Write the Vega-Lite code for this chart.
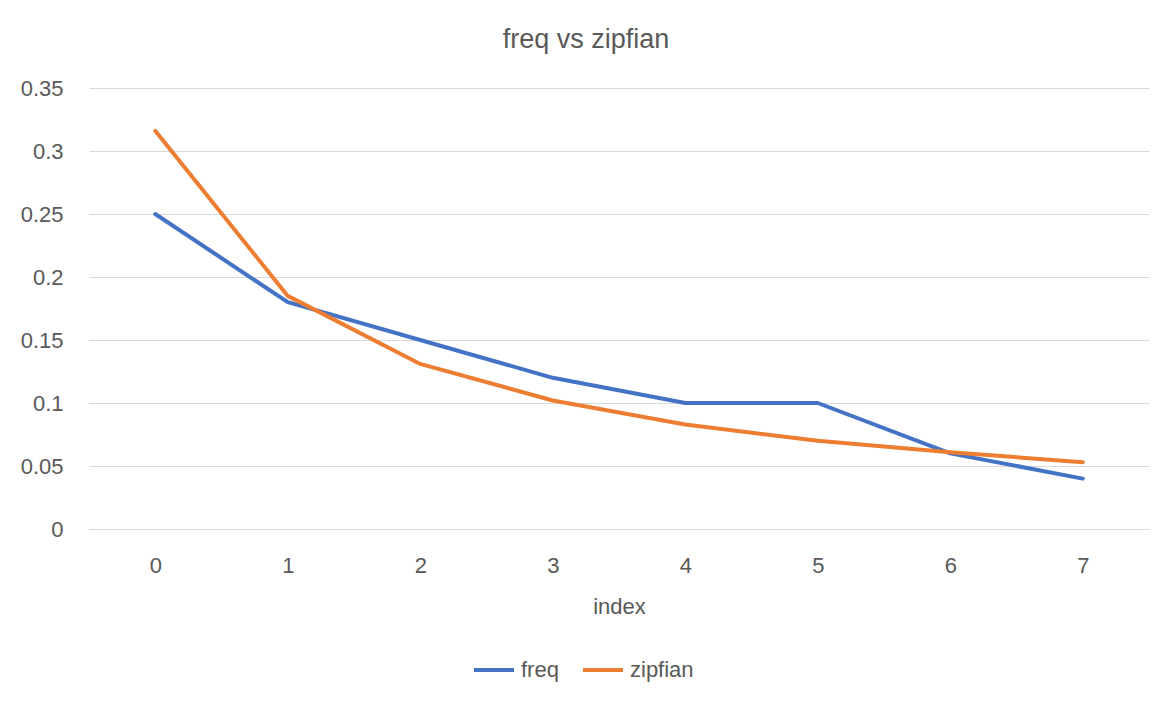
{
  "$schema": "https://vega.github.io/schema/vega-lite/v6.json",
  "autosize": {"type": "none"},
  "width": 1060,
  "height": 441,
  "padding": {"left": 89, "top": 88, "right": 25, "bottom": 177},
  "background": "white",
  "title": {
    "text": "freq vs zipfian",
    "fontSize": 27,
    "fontWeight": "normal",
    "font": "Liberation Sans",
    "color": "#595959",
    "anchor": "middle",
    "dx": -33,
    "offset": 23
  },
  "data": {
    "values": [
      {"index": 0, "series": "freq", "value": 0.25},
      {"index": 1, "series": "freq", "value": 0.18},
      {"index": 2, "series": "freq", "value": 0.15},
      {"index": 3, "series": "freq", "value": 0.12},
      {"index": 4, "series": "freq", "value": 0.10},
      {"index": 5, "series": "freq", "value": 0.10},
      {"index": 6, "series": "freq", "value": 0.06},
      {"index": 7, "series": "freq", "value": 0.04},
      {"index": 0, "series": "zipfian", "value": 0.316},
      {"index": 1, "series": "zipfian", "value": 0.185},
      {"index": 2, "series": "zipfian", "value": 0.131},
      {"index": 3, "series": "zipfian", "value": 0.102},
      {"index": 4, "series": "zipfian", "value": 0.083},
      {"index": 5, "series": "zipfian", "value": 0.07},
      {"index": 6, "series": "zipfian", "value": 0.061},
      {"index": 7, "series": "zipfian", "value": 0.053}
    ]
  },
  "mark": {"type": "line", "strokeWidth": 4, "strokeCap": "round", "strokeJoin": "round"},
  "encoding": {
    "x": {
      "field": "index",
      "type": "ordinal",
      "scale": {"type": "point", "padding": 0.5},
      "axis": {
        "title": "index",
        "labelAngle": 0,
        "labelFontSize": 22,
        "labelColor": "#595959",
        "labelPadding": 26,
        "titleFontSize": 22,
        "titleFontWeight": "normal",
        "titleColor": "#595959",
        "titlePadding": 20,
        "ticks": false,
        "domainColor": "#D9D9D9",
        "grid": false
      }
    },
    "y": {
      "field": "value",
      "type": "quantitative",
      "scale": {"domain": [0, 0.35]},
      "axis": {
        "title": null,
        "values": [0, 0.05, 0.1, 0.15, 0.2, 0.25, 0.3, 0.35],
        "format": "~g",
        "labelFontSize": 22,
        "labelColor": "#595959",
        "labelPadding": 26,
        "ticks": false,
        "domain": false,
        "gridColor": "#D9D9D9",
        "gridWidth": 1
      }
    },
    "color": {
      "field": "series",
      "type": "nominal",
      "scale": {"domain": ["freq", "zipfian"], "range": ["#4472C4", "#ED7D31"]},
      "legend": {
        "title": null,
        "orient": "none",
        "direction": "horizontal",
        "legendX": 383,
        "legendY": 560,
        "symbolType": "stroke",
        "symbolStrokeWidth": 4,
        "symbolSize": 1600,
        "labelFontSize": 22,
        "labelColor": "#595959",
        "columnPadding": 16,
        "labelOffset": 5
      }
    }
  },
  "config": {
    "font": "Liberation Sans",
    "view": {"stroke": null}
  }
}
